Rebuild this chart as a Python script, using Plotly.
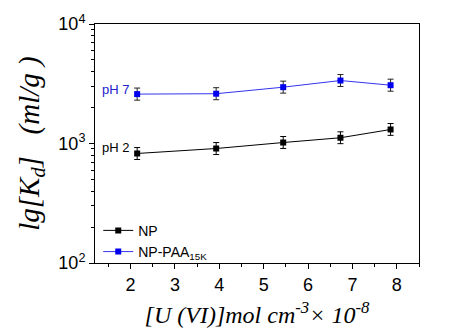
import plotly.graph_objects as go

conc = [2.15, 3.93, 5.44, 6.73, 7.86]
kd_np = [825, 908, 1019, 1117, 1310]
kd_paa = [2590, 2610, 2960, 3365, 3075]
err_np_plus = [100, 110, 125, 135, 160]
err_np_minus = [90, 100, 110, 120, 140]
err_paa_plus = [320, 320, 365, 410, 380]
err_paa_minus = [285, 285, 320, 365, 335]
ytick_vals = [100, 1000, 10000]
ytick_text = ["10<sup>2</sup>", "10<sup>3</sup>", "10<sup>4</sup>"]
yminor_vals = [m * d for d in (100, 1000) for m in range(2, 10)]

fig = go.Figure()
fig.add_trace(go.Scatter(
    x=conc, y=kd_np, mode="lines+markers", name="NP",
    line=dict(color="black", width=1), marker=dict(symbol="square", size=6, color="black"),
    error_y=dict(type="data", array=err_np_plus, arrayminus=err_np_minus, color="black", thickness=1, width=3)))
fig.add_trace(go.Scatter(
    x=conc, y=kd_paa, mode="lines+markers", name="NP-PAA<sub>15K</sub>",
    line=dict(color="#3333ee", width=1), marker=dict(symbol="square", size=6, color="#0000ee"),
    error_y=dict(type="data", array=err_paa_plus, arrayminus=err_paa_minus, color="#222222", thickness=1, width=3)))

fig.add_annotation(x=1.66, y=3.45, xref="x", yref="y", text="pH 7", showarrow=False,
                   font=dict(family="Liberation Sans", size=13, color="#2222cc"))
fig.add_annotation(x=1.66, y=2.97, xref="x", yref="y", text="pH 2", showarrow=False,
                   font=dict(family="Liberation Sans", size=13, color="black"))

fig.update_layout(
    width=474, height=335, margin=dict(l=95, r=55, t=24, b=72),
    paper_bgcolor="white", plot_bgcolor="white",
    showlegend=True,
    legend=dict(x=0.01, y=-0.02, xanchor="left", yanchor="bottom", bgcolor="rgba(0,0,0,0)",
                font=dict(family="Liberation Sans", size=14, color="black"), tracegroupgap=2),
    xaxis=dict(range=[1.2, 8.5], tickvals=[2, 3, 4, 5, 6, 7, 8], showgrid=False, zeroline=False,
               showline=True, linecolor="black", linewidth=1, mirror=True,
               ticks="outside", ticklen=5, tickcolor="black",
               minor=dict(ticks="outside", ticklen=3, tickvals=[1.5, 2.5, 3.5, 4.5, 5.5, 6.5, 7.5, 8.5],
                          tickcolor="black", showgrid=False),
               tickfont=dict(family="Liberation Sans", size=18, color="black"),
               title=dict(text="<i>[U (VI)]mol cm<sup>-3</sup>× 10<sup>-8</sup></i>",
                          font=dict(family="Liberation Serif", size=24, color="black"), standoff=12)),
    yaxis=dict(type="log", range=[2, 4], tickvals=ytick_vals, ticktext=ytick_text, showgrid=False,
               showline=True, linecolor="black", linewidth=1, mirror=True,
               ticks="outside", ticklen=5, tickcolor="black",
               minor=dict(ticks="outside", ticklen=3, tickvals=yminor_vals, tickcolor="black", showgrid=False),
               tickfont=dict(family="Liberation Sans", size=18, color="black"),
               title=dict(text="<i>lg[K<sub>d</sub>]   (ml/g )</i>",
                          font=dict(family="Liberation Serif", size=29, color="black"), standoff=10)),
)
fig.write_html("out.html")
